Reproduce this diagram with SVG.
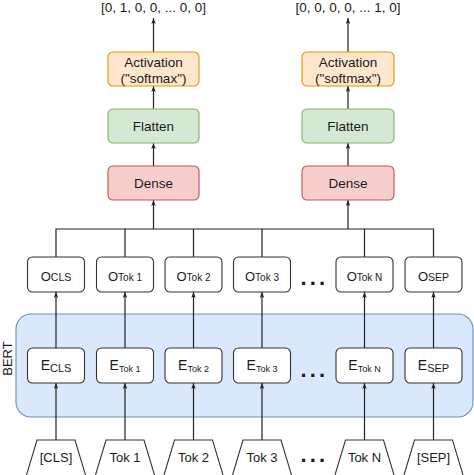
<svg xmlns="http://www.w3.org/2000/svg" width="474" height="475" viewBox="0 0 474 475">
<defs>
<style>
text{font-family:"Liberation Sans",Arial,Helvetica,sans-serif;fill:#1a1a1a}
.lbl{font-size:13.5px;text-anchor:middle}
.tok{font-size:13px;text-anchor:middle}
.box{fill:#fff;stroke:#333;stroke-width:1.1}
.act{fill:#ffe6cc;stroke:#d79b00;stroke-width:1.1}
.flat{fill:#d5e8d4;stroke:#82b366;stroke-width:1.1}
.dense{fill:#f8cecc;stroke:#b85450;stroke-width:1.1}
.line{fill:none;stroke:#222;stroke-width:1.2}
.arr{fill:none;stroke:#222;stroke-width:1.2;marker-end:url(#ah)}
.dots{font-size:22px;font-weight:bold;letter-spacing:3.2px}
.big{text-anchor:middle}
</style>
<marker id="ah" viewBox="0 0 8 6" refX="8" refY="3" markerWidth="6" markerHeight="4.5" markerUnits="userSpaceOnUse" orient="auto">
<path d="M0,0 L8,3 L0,6 L2,3 z" fill="#222"/>
</marker>
</defs>

<g id="bert">
<rect x="16" y="314" width="457" height="103" rx="15" fill="#dae8fc" stroke="#6c8ebf" stroke-width="1.1"/>
<text transform="translate(12,358.5) rotate(-90)" font-size="13" text-anchor="middle">BERT</text>
</g>

<g id="connectors">
<!-- token to E -->
<line class="arr" x1="56" y1="440" x2="56" y2="383"/>
<line class="arr" x1="125" y1="440" x2="125" y2="383"/>
<line class="arr" x1="193.5" y1="440" x2="193.5" y2="383"/>
<line class="arr" x1="262" y1="440" x2="262" y2="383"/>
<line class="arr" x1="364.5" y1="440" x2="364.5" y2="383"/>
<line class="arr" x1="433.5" y1="440" x2="433.5" y2="383"/>
<!-- E to O -->
<line class="arr" x1="56" y1="348" x2="56" y2="292"/>
<line class="arr" x1="125" y1="348" x2="125" y2="292"/>
<line class="arr" x1="193.5" y1="348" x2="193.5" y2="292"/>
<line class="arr" x1="262" y1="348" x2="262" y2="292"/>
<line class="arr" x1="364.5" y1="348" x2="364.5" y2="292"/>
<line class="arr" x1="433.5" y1="348" x2="433.5" y2="292"/>
<!-- O to bus -->
<path class="line" d="M56,257V229H433.5V257M125,257V229M193.5,257V229M262,257V229M364.5,257V229"/>
<!-- bus to dense -->
<line class="arr" x1="153.5" y1="229" x2="153.5" y2="200"/>
<line class="arr" x1="348" y1="229" x2="348" y2="200"/>
<!-- stacks -->
<line class="arr" x1="153.5" y1="166" x2="153.5" y2="143"/>
<line class="arr" x1="153.5" y1="109" x2="153.5" y2="86"/>
<line class="arr" x1="153.5" y1="52" x2="153.5" y2="18"/>
<line class="arr" x1="348" y1="166" x2="348" y2="143"/>
<line class="arr" x1="348" y1="109" x2="348" y2="86"/>
<line class="arr" x1="348" y1="52" x2="348" y2="18"/>
</g>

<g id="out-left"><text class="lbl" x="153.5" y="12">[0, 1, 0, 0, ... 0, 0]</text></g>
<g id="out-right"><text class="lbl" x="348" y="12">[0, 0, 0, 0, ... 1, 0]</text></g>

<g id="act-left"><rect class="act" x="108" y="52" width="91" height="34" rx="5"/>
<text class="lbl" x="153.5" y="66.5">Activation</text><text class="lbl" x="153.5" y="82.5">("softmax")</text></g>
<g id="flat-left"><rect class="flat" x="108" y="109" width="91" height="34" rx="5"/><text class="lbl" x="153.5" y="131">Flatten</text></g>
<g id="dense-left"><rect class="dense" x="108" y="166" width="91" height="34" rx="5"/><text class="lbl" x="153.5" y="188.3">Dense</text></g>

<g id="act-right"><rect class="act" x="302" y="52" width="92" height="34" rx="5"/>
<text class="lbl" x="348" y="66.5">Activation</text><text class="lbl" x="348" y="82.5">("softmax")</text></g>
<g id="flat-right"><rect class="flat" x="302" y="109" width="92" height="34" rx="5"/><text class="lbl" x="348" y="131">Flatten</text></g>
<g id="dense-right"><rect class="dense" x="302" y="166" width="92" height="34" rx="5"/><text class="lbl" x="348" y="188.3">Dense</text></g>

<!-- O row -->
<g id="o-cls"><rect class="box" x="27.5" y="257" width="57" height="35" rx="5"/><text class="big" x="56" y="280.7" font-size="13">O<tspan font-size="10.5">CLS</tspan></text></g>
<g id="o-tok1"><rect class="box" x="96.5" y="257" width="57" height="35" rx="5"/><text class="big" x="125" y="280.7" font-size="13">O<tspan font-size="10">Tok 1</tspan></text></g>
<g id="o-tok2"><rect class="box" x="165" y="257" width="57" height="35" rx="5"/><text class="big" x="193.5" y="280.7" font-size="13">O<tspan font-size="10">Tok 2</tspan></text></g>
<g id="o-tok3"><rect class="box" x="233.5" y="257" width="57" height="35" rx="5"/><text class="big" x="262" y="280.7" font-size="13">O<tspan font-size="10">Tok 3</tspan></text></g>
<g id="o-dots"><text class="dots" x="300.5" y="284.5">...</text></g>
<g id="o-tokn"><rect class="box" x="336" y="257" width="57" height="35" rx="5"/><text class="big" x="364.5" y="280.7" font-size="13">O<tspan font-size="10">Tok N</tspan></text></g>
<g id="o-sep"><rect class="box" x="405" y="257" width="57" height="35" rx="5"/><text class="big" x="433.5" y="280.7" font-size="13">O<tspan font-size="10.5">SEP</tspan></text></g>

<!-- E row -->
<g id="e-cls"><rect class="box" x="27.5" y="348" width="57" height="35" rx="5"/><text class="big" x="56" y="370" font-size="14">E<tspan font-size="11" dy="1.8">CLS</tspan></text></g>
<g id="e-tok1"><rect class="box" x="96.5" y="348" width="57" height="35" rx="5"/><text class="big" x="125" y="370" font-size="14">E<tspan font-size="9" dy="2">Tok 1</tspan></text></g>
<g id="e-tok2"><rect class="box" x="165" y="348" width="57" height="35" rx="5"/><text class="big" x="193.5" y="370" font-size="14">E<tspan font-size="9" dy="2">Tok 2</tspan></text></g>
<g id="e-tok3"><rect class="box" x="233.5" y="348" width="57" height="35" rx="5"/><text class="big" x="262" y="370" font-size="14">E<tspan font-size="9" dy="2">Tok 3</tspan></text></g>
<g id="e-dots"><text class="dots" x="300.5" y="377">...</text></g>
<g id="e-tokn"><rect class="box" x="336" y="348" width="57" height="35" rx="5"/><text class="big" x="364.5" y="370" font-size="14">E<tspan font-size="9" dy="2">Tok N</tspan></text></g>
<g id="e-sep"><rect class="box" x="405" y="348" width="57" height="35" rx="5"/><text class="big" x="433.5" y="370" font-size="14">E<tspan font-size="11" dy="1.8">SEP</tspan></text></g>

<!-- token inputs -->
<g id="t-cls"><path class="box" d="M37,440H75L85.8,476H26.2Z"/><text class="tok" x="56" y="462">[CLS]</text></g>
<g id="t-tok1"><path class="box" d="M106,440H144L154.8,476H95.2Z"/><text class="tok" x="125" y="462">Tok 1</text></g>
<g id="t-tok2"><path class="box" d="M174.5,440H212.5L223.3,476H163.7Z"/><text class="tok" x="193.5" y="462">Tok 2</text></g>
<g id="t-tok3"><path class="box" d="M243,440H281L291.8,476H232.2Z"/><text class="tok" x="262" y="462">Tok 3</text></g>
<g id="t-dots"><text class="dots" x="300.5" y="462">...</text></g>
<g id="t-tokn"><path class="box" d="M345.5,440H383.5L394.3,476H334.7Z"/><text class="tok" x="364.5" y="462">Tok N</text></g>
<g id="t-sep"><path class="box" d="M414.5,440H452.5L463.3,476H403.7Z"/><text class="tok" x="433.5" y="462">[SEP]</text></g>
</svg>
